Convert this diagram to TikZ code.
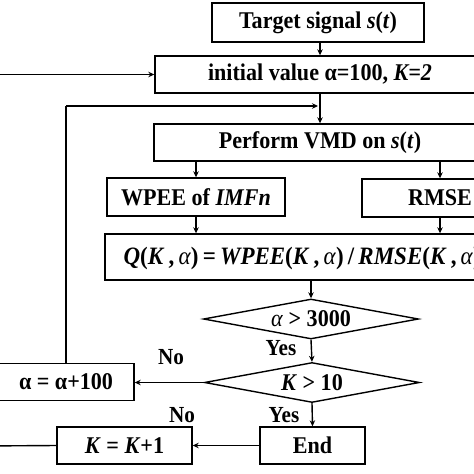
\documentclass[tikz,border=0pt]{standalone}
\usepackage{fontspec}
\setmainfont{Liberation Serif}[FakeStretch=0.92]
\usetikzlibrary{shapes.geometric,arrows.meta}
\begin{document}
\begin{tikzpicture}[x=1pt,y=-1pt,
  every node/.style={font=\fontsize{24}{26}\selectfont\bfseries},
  box/.style={draw,line width=1.4pt,inner sep=0pt,minimum height=37pt},
  dia/.style={draw,diamond,line width=1.4pt,inner sep=0pt,shape aspect=5.4,minimum width=215pt,minimum height=40pt},
  conn/.style={line width=1.4pt},
  arr/.style={conn,-{Stealth[length=6pt,width=5.5pt]}},
  lab/.style={font=\fontsize{23}{25}\selectfont\bfseries}]
\useasboundingbox (0,0) rectangle (474,474);
\clip (0,0) rectangle (474,474);
\node[box,minimum width=212pt,minimum height=39pt] (tgt) at (318,22.5) {Target signal \textit{s}(\textit{t})};
\node[box,minimum width=330pt] (init) at (320,74.5) {initial value α=100, \textit{K=2}};
\node[box,minimum width=332pt] (vmd) at (320,142.5) {Perform VMD on \textit{s}(\textit{t})};
\node[box,minimum width=178pt,minimum height=38pt] (wpee) at (196,197) {WPEE of \textit{IMFn}};
\node[box,minimum width=156pt,minimum height=38pt] (rmse) at (440,198) {RMSE};
\node[box,minimum width=435pt,minimum height=46pt] (q) at (322.5,257) {};
\node[anchor=west,font=\fontsize{25}{27}\selectfont\bfseries] (qt) at (120,258) {\textit{Q}(\textit{K}\,,\,{\mdseries\textit{α}})\,=\,\textit{WPEE}(\textit{K}\,,\,{\mdseries\textit{α}})\,/\,\textit{RMSE}(\textit{K}\,,\,{\mdseries\textit{α}})};
\node[dia] (d1) at (311,319) {{\mdseries\textit{α}} > 3000};
\node[dia] (d2) at (312,382.5) {\textit{K} > 10};
\node[box,minimum width=136pt] (alpha) at (66,382) {α = α+100};
\node[box,minimum width=105pt] (end) at (312.5,445.5) {End};
\node[box,minimum width=135pt] (kbox) at (124.5,445.5) {\textit{K} = \textit{K}+1};
\coordinate (j1) at (318,106);
\coordinate (lft) at (-20,446);
% connectors
\draw[arr] (tgt.south -| init.north) -- (init.north);
\draw[arr] (init.south) -- (vmd.north);
\draw[conn] (alpha.north) -- (alpha.north |- j1);
\draw[arr] (alpha.north |- j1) -- (j1);
\draw[arr] (vmd.south -| wpee.north) -- (wpee.north);
\draw[arr] (vmd.south -| rmse.north) -- (rmse.north);
\draw[arr] (wpee.south) -- (wpee.south |- q.north);
\draw[arr] (rmse.south) -- (rmse.south |- q.north);
\draw[arr] (q.south -| d1.north) -- (d1.north);
\draw[arr] (d1.south) -- (d2.north);
\draw[arr] (d2.south) -- (end.north);
\draw[arr] (d2.west) -- (d2.west -| alpha.east);
\draw[arr] (end.west) -- (kbox.east);
\draw[conn] (kbox.west) -- (lft) -- (lft |- init.west);
\draw[arr] (lft |- init.west) -- (init.west);
% labels
\node[lab] (y1) at (281,348) {Yes};
\node[lab] (y2) at (284,415) {Yes};
\node[lab] (n1) at (171,357) {No};
\node[lab] (n2) at (182,415) {No};
\end{tikzpicture}
\end{document}
